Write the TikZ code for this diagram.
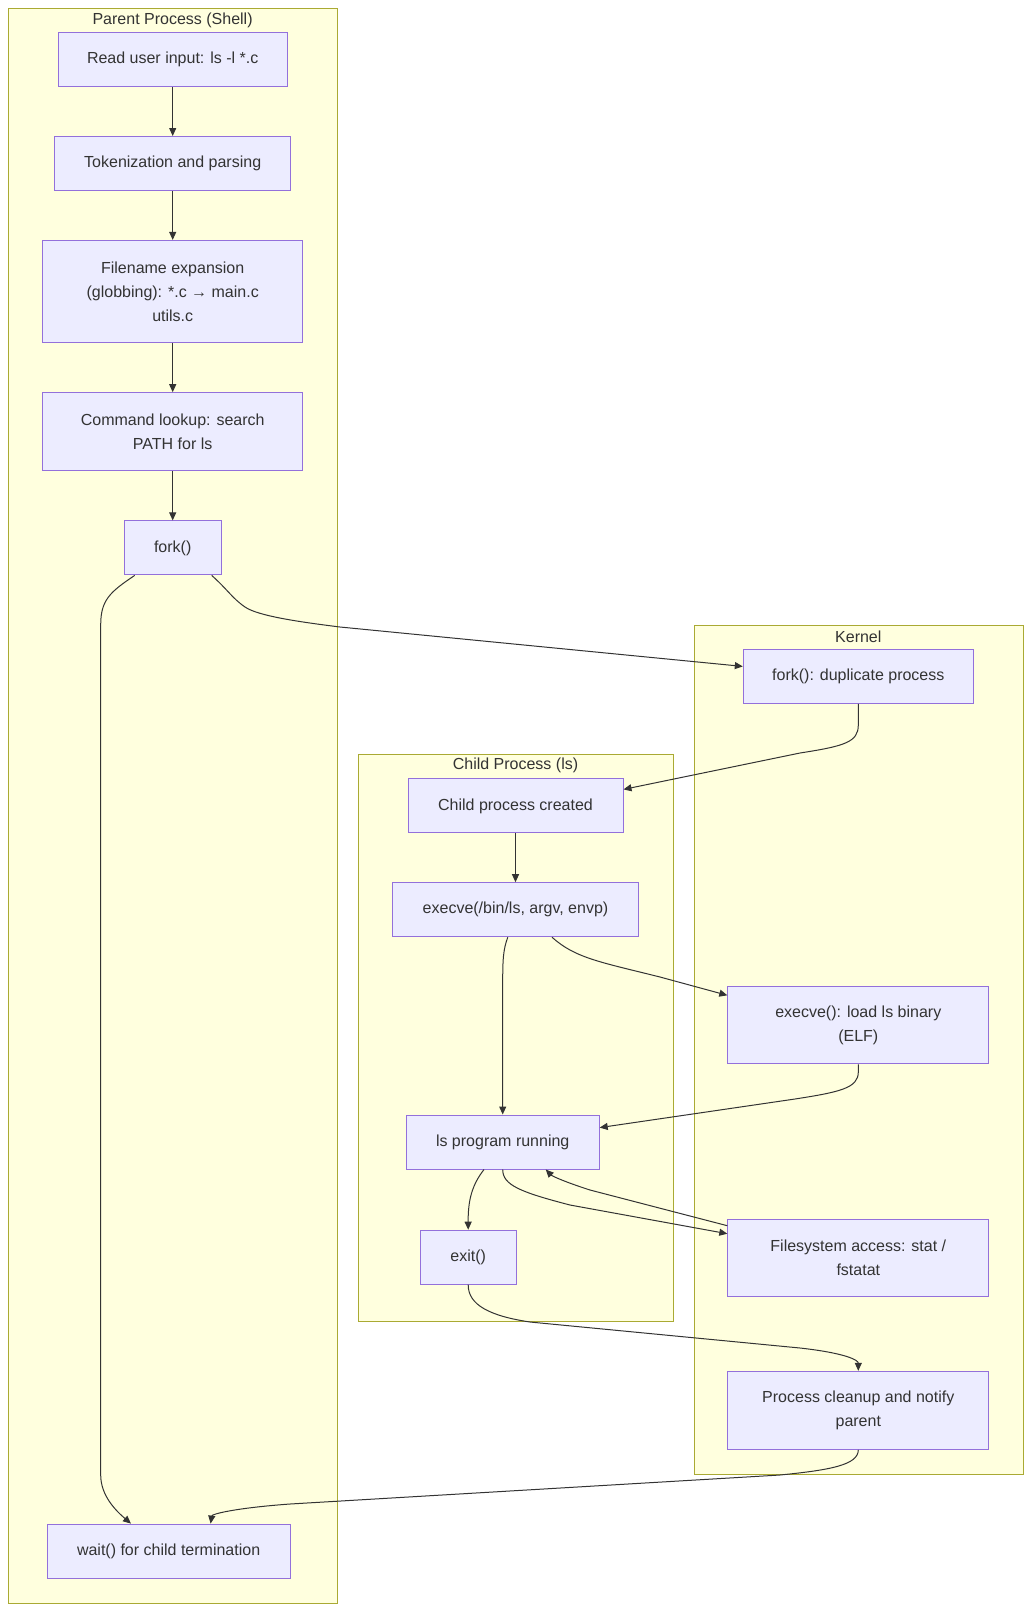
\documentclass[tikz,border=0pt]{standalone}
\usepackage{fontspec}
\setmainfont{Liberation Sans}
\usetikzlibrary{calc,positioning,arrows.meta}
\usepackage{xcolor}
\definecolor{boxfill}{HTML}{ECECFF}
\definecolor{boxline}{HTML}{9370DB}
\definecolor{groupfill}{HTML}{FFFFDE}
\definecolor{groupline}{HTML}{AAAA33}
\definecolor{ink}{HTML}{333333}

\begin{document}
\begin{tikzpicture}[x=1pt,y=-1pt,
  every node/.style={font=\fontsize{16}{24}\selectfont, text=ink},
  proc/.style={draw=boxline, fill=boxfill, line width=1pt, align=center,
    inner sep=0pt, minimum height=54pt},
  group/.style={draw=groupline, fill=groupfill, line width=1pt},
  flow/.style={draw=ink, line width=1pt, -{Triangle[length=8pt,width=7pt]}}]
\useasboundingbox (0,0) rectangle (1032,1612);

% Draw the three groups
\draw[group] (8,8) rectangle (337,1603);
\node (parenttitle) at (172.6,20) {Parent Process (Shell)};
\draw[group] (694,625) rectangle (1023,1474);
\node (kerneltitle) at (858.3,637) {Kernel};
\draw[group] (358,754) rectangle (673,1321);
\node (childtitle) at (515.5,765) {Child Process (ls)};

% Shell steps
\node[proc, minimum width=229pt] (read) at (172.7,59.6) {Read user input: ls -l *.c};
\node[proc, minimum width=236pt] (token) at (172.7,163.5) {Tokenization and parsing};
\node[proc, minimum width=260pt, minimum height=102pt] (expand) at (172.7,291.4)
  {Filename expansion\\(globbing): *.c → main.c\\utils.c};
\node[proc, minimum width=260pt, minimum height=78pt] (lookup) at (172.7,431.7)
  {Command lookup: search\\PATH for ls};
\node[proc, minimum width=97pt] (fork) at (172.7,547.9) {fork()};
\node[proc, minimum width=243pt] (wait) at (168.6,1551.1) {wait() for child termination};

% Kernel steps
\node[proc, minimum width=230pt] (kfork) at (858.3,676.4) {fork(): duplicate process};
\node[proc, minimum width=261pt, minimum height=77pt] (kexec) at (858.3,1025.3)
  {execve(): load ls binary\\(ELF)};
\node[proc, minimum width=261pt, minimum height=77pt] (kfs) at (858.3,1257.7)
  {Filesystem access: stat /\\fstatat};
\node[proc, minimum width=261pt, minimum height=78pt] (kclean) at (858.3,1410.3)
  {Process cleanup and notify\\parent};

% Child steps
\node[proc, minimum width=215pt] (created) at (515.5,805.9) {Child process created};
\node[proc, minimum width=246pt] (execve) at (515.5,909.7) {execve(/bin/ls, argv, envp)};
\node[proc, minimum width=193pt] (running) at (502.7,1142) {ls program running};
\node[proc, minimum width=96pt] (exit) at (468.2,1257.2) {exit()};

% Straight arrows in the shell
\draw[flow] (read) -- (token);
\draw[flow] (token) -- (expand);
\draw[flow] (expand) -- (lookup);
\draw[flow] (lookup) -- (fork);

% fork goes to the kernel and to wait
\draw[flow] ([xshift=-10pt]fork.south east) .. controls (228,590) and (232,598) .. (245,607)
  .. controls (258,616) and (300,622) .. (340,627) -- ([yshift=10pt]kfork.west);
\draw[flow] ([xshift=-38pt]fork.south) .. controls (110,592) and (100.7,600) .. (100.7,625)
  -- (100.7,1475) .. controls (100.7,1495) and (115,1510) .. ([xshift=-37.6pt]wait.north);

% Kernel to child and back
\draw[flow] (kfork.south) -- (858.3,725) .. controls (858.3,742) and (845,746) .. (800,753)
  -- ([yshift=16.5pt]created.east);
\draw[flow] (created) -- (execve);
\draw[flow] ([xshift=-7.7pt]execve.south) .. controls (503,950) and (502.7,960) .. (502.7,985)
  -- (running.north);
\draw[flow] ([xshift=36.5pt]execve.south) .. controls (575,958) and (600,962) .. (660,977)
  -- ([yshift=30pt]kexec.west);
\draw[flow] (kexec.south) -- (858.3,1072) .. controls (858.3,1088) and (840,1092) .. (795,1099)
  -- ([yshift=14.4pt]running.east);
\draw[flow] (running.south) .. controls (502.7,1185) and (520,1192) .. (570,1205)
  -- ([yshift=24pt]kfs.west);
\draw[flow] ([yshift=32pt]kfs.west) -- (590,1190) .. controls (565,1182) and (552,1176)
  .. ([xshift=43pt]running.south);
\draw[flow] ([xshift=-18.7pt]running.south) .. controls (472,1185) and (468,1200) .. (exit.north);

% Exit and cleanup
\draw[flow] (exit.south) .. controls (468,1305) and (490,1316) .. (530,1322)
  -- (800,1348) .. controls (845,1353) and (858.3,1360) .. (kclean.north);
\draw[flow] (kclean.south) .. controls (858.3,1465) and (830,1470) .. (780,1475)
  -- (290,1504) .. controls (235,1508) and (212,1514) .. ([xshift=42pt]wait.north);
\end{tikzpicture}
\end{document}
